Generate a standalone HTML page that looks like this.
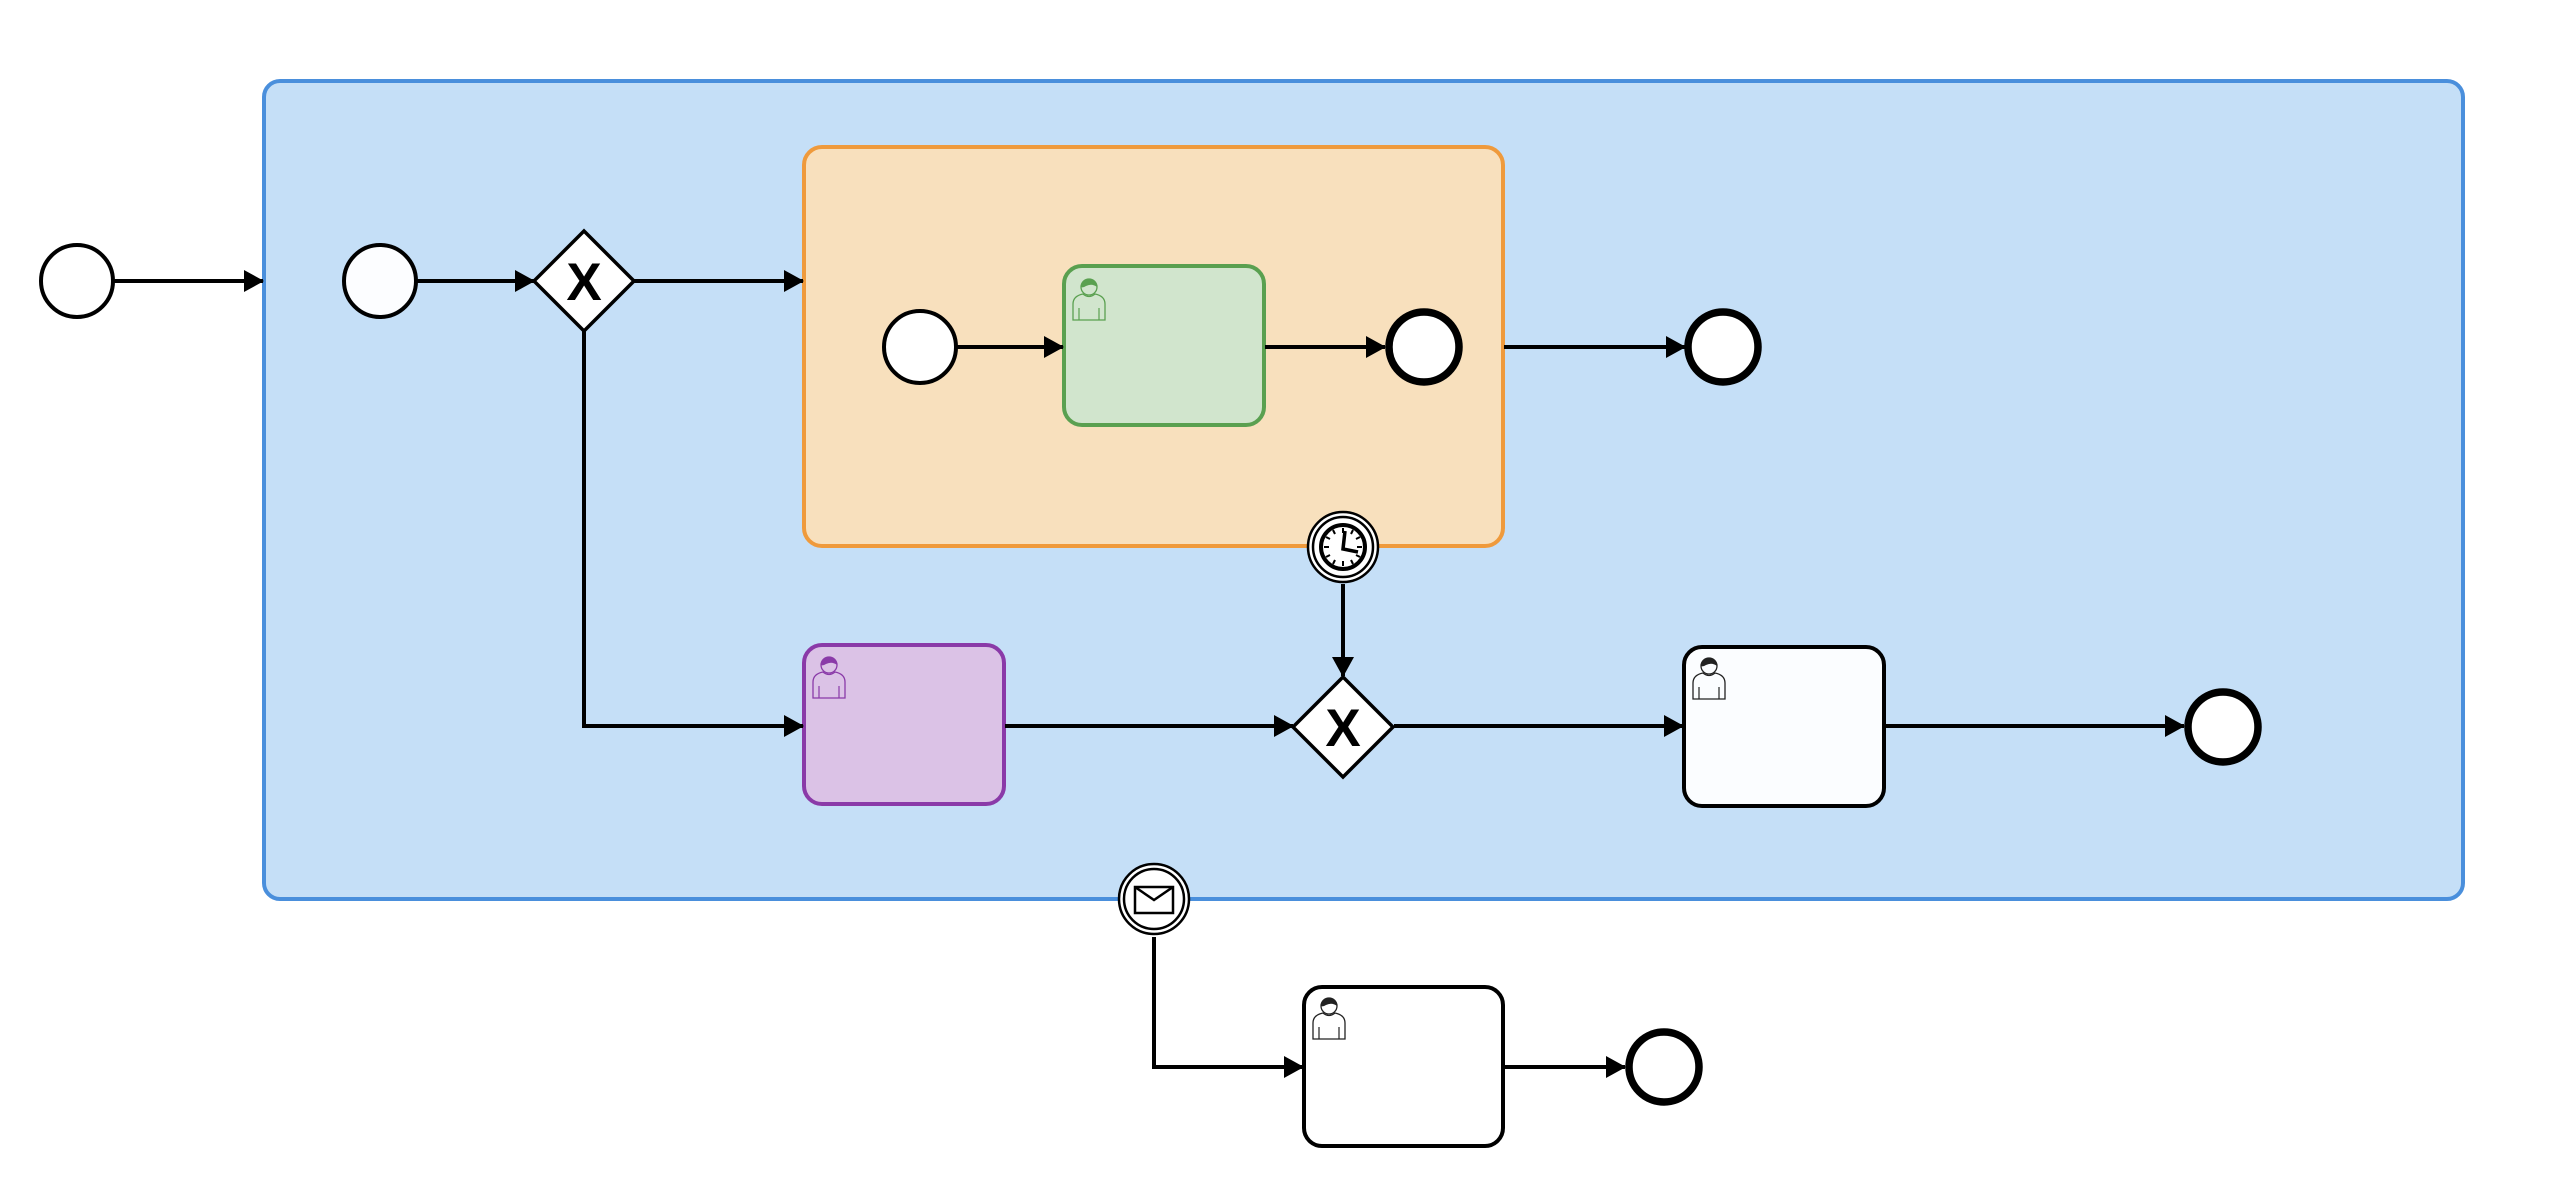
<!DOCTYPE html>
<html><head><meta charset="utf-8"><style>
html,body{margin:0;padding:0;background:#fff;}
svg{display:block;}
</style></head><body>
<svg width="2552" height="1204" viewBox="0 0 2552 1204" xmlns="http://www.w3.org/2000/svg">
<defs>
<marker id="a" markerWidth="20" markerHeight="24" refX="19" refY="12" orient="auto" markerUnits="userSpaceOnUse">
<path d="M0,1 L20,12 L0,23 Z" fill="#000"/>
</marker>
<g id="user">
<path d="M-16,28 L-16,12 Q-16,4 -6,2 Q0,7 6,2 Q16,4 16,12 L16,28 Z" fill="none" stroke="currentColor" stroke-width="1.3"/>
<line x1="-10" y1="16" x2="-10" y2="28" stroke="currentColor" stroke-width="1.2"/>
<line x1="10" y1="16" x2="10" y2="28" stroke="currentColor" stroke-width="1.2"/>
<circle cx="0" cy="-5" r="8" fill="none" stroke="currentColor" stroke-width="1.3"/>
<path d="M-8,-5 A8,8 0 0 1 8,-5 Q3,-9 -3,-6 Q-6,-4 -8,-5 Z" fill="currentColor"/>
</g>
</defs>

<rect x="264" y="81" width="2199" height="818" rx="16" fill="#c5dff7" stroke="#4a8fdc" stroke-width="4"/>
<rect x="804" y="147" width="699" height="399" rx="18" fill="#f8e0bd" stroke="#ef9a3c" stroke-width="4"/>
<rect x="1064" y="266" width="200" height="159" rx="18" fill="#d1e5cd" stroke="#5aa050" stroke-width="4"/>
<rect x="804" y="645" width="200" height="159" rx="18" fill="#dbc2e6" stroke="#8a3aa8" stroke-width="4"/>
<rect x="1684" y="647" width="200" height="159" rx="18" fill="#fbfdff" stroke="#000" stroke-width="4"/>
<rect x="1304" y="987" width="199" height="159" rx="18" fill="#fff" stroke="#000" stroke-width="4"/>

<use href="#user" x="1089" y="292" style="color:#5aa050"/>
<use href="#user" x="829" y="670" style="color:#8a3aa8"/>
<use href="#user" x="1709" y="671" style="color:#222"/>
<use href="#user" x="1329" y="1011" style="color:#222"/>

<g stroke="#000" stroke-width="4" fill="none">
<line x1="114" y1="281" x2="263" y2="281" marker-end="url(#a)"/>
<line x1="417" y1="281" x2="534" y2="281" marker-end="url(#a)"/>
<line x1="634" y1="281" x2="803" y2="281" marker-end="url(#a)"/>
<polyline points="584,331 584,726 803,726" marker-end="url(#a)"/>
<line x1="957" y1="347" x2="1063" y2="347" marker-end="url(#a)"/>
<line x1="1265" y1="347" x2="1385" y2="347" marker-end="url(#a)"/>
<line x1="1504" y1="347" x2="1685" y2="347" marker-end="url(#a)"/>
<line x1="1005" y1="726" x2="1293" y2="726" marker-end="url(#a)"/>
<line x1="1343" y1="584" x2="1343" y2="676" marker-end="url(#a)"/>
<line x1="1394" y1="726" x2="1683" y2="726" marker-end="url(#a)"/>
<line x1="1885" y1="726" x2="2184" y2="726" marker-end="url(#a)"/>
<polyline points="1154,937 1154,1067 1303,1067" marker-end="url(#a)"/>
<line x1="1504" y1="1067" x2="1625" y2="1067" marker-end="url(#a)"/>
</g>

<circle cx="77" cy="281" r="36" fill="#fff" stroke="#000" stroke-width="4"/>
<circle cx="380" cy="281" r="36" fill="#fcfdff" stroke="#000" stroke-width="4"/>
<circle cx="920" cy="347" r="36" fill="#fff" stroke="#000" stroke-width="4"/>

<circle cx="1424" cy="347" r="35" fill="#fff" stroke="#000" stroke-width="7.5"/>
<circle cx="1723" cy="347" r="35" fill="#fff" stroke="#000" stroke-width="7.5"/>
<circle cx="2223" cy="727" r="35" fill="#fff" stroke="#000" stroke-width="7.5"/>
<circle cx="1664" cy="1067" r="35" fill="#fff" stroke="#000" stroke-width="7.5"/>

<polygon points="584,231 634,281 584,331 534,281" fill="#fff" stroke="#000" stroke-width="3.5"/>
<text x="584" y="300" text-anchor="middle" font-family="Liberation Sans, sans-serif" font-weight="bold" font-size="53" fill="#000">X</text>
<polygon points="1343,677 1393,727 1343,777 1293,727" fill="#fff" stroke="#000" stroke-width="3.5"/>
<text x="1343" y="746" text-anchor="middle" font-family="Liberation Sans, sans-serif" font-weight="bold" font-size="53" fill="#000">X</text>

<g>
<circle cx="1343" cy="547" r="35" fill="#fff" stroke="#000" stroke-width="2.5"/>
<circle cx="1343" cy="547" r="30" fill="#fff" stroke="#000" stroke-width="2.5"/>
<circle cx="1343" cy="547" r="22" fill="#fff" stroke="#000" stroke-width="4"/>
<g stroke="#000" stroke-width="2">
<line x1="1343" y1="528" x2="1343" y2="533"/>
<line x1="1343" y1="561" x2="1343" y2="566"/>
<line x1="1324" y1="547" x2="1329" y2="547"/>
<line x1="1357" y1="547" x2="1362" y2="547"/>
<line x1="1333" y1="530" x2="1335" y2="534"/>
<line x1="1353" y1="530" x2="1351" y2="534"/>
<line x1="1333" y1="564" x2="1335" y2="560"/>
<line x1="1353" y1="564" x2="1351" y2="560"/>
<line x1="1326" y1="537" x2="1330" y2="539"/>
<line x1="1360" y1="537" x2="1356" y2="539"/>
<line x1="1326" y1="557" x2="1330" y2="555"/>
<line x1="1360" y1="557" x2="1356" y2="555"/>
</g>
<path d="M1345,531 L1343,549 L1358,552" fill="none" stroke="#000" stroke-width="3.5"/>
</g>

<g>
<circle cx="1154" cy="899" r="35" fill="#fff" stroke="#000" stroke-width="2.5"/>
<circle cx="1154" cy="899" r="30" fill="#fff" stroke="#000" stroke-width="2.5"/>
<rect x="1135" y="887" width="38" height="26" fill="#fff" stroke="#000" stroke-width="2.5"/>
<path d="M1135,887 L1154,900 L1173,887" fill="none" stroke="#000" stroke-width="2.5"/>
</g>
</svg>
</body></html>
